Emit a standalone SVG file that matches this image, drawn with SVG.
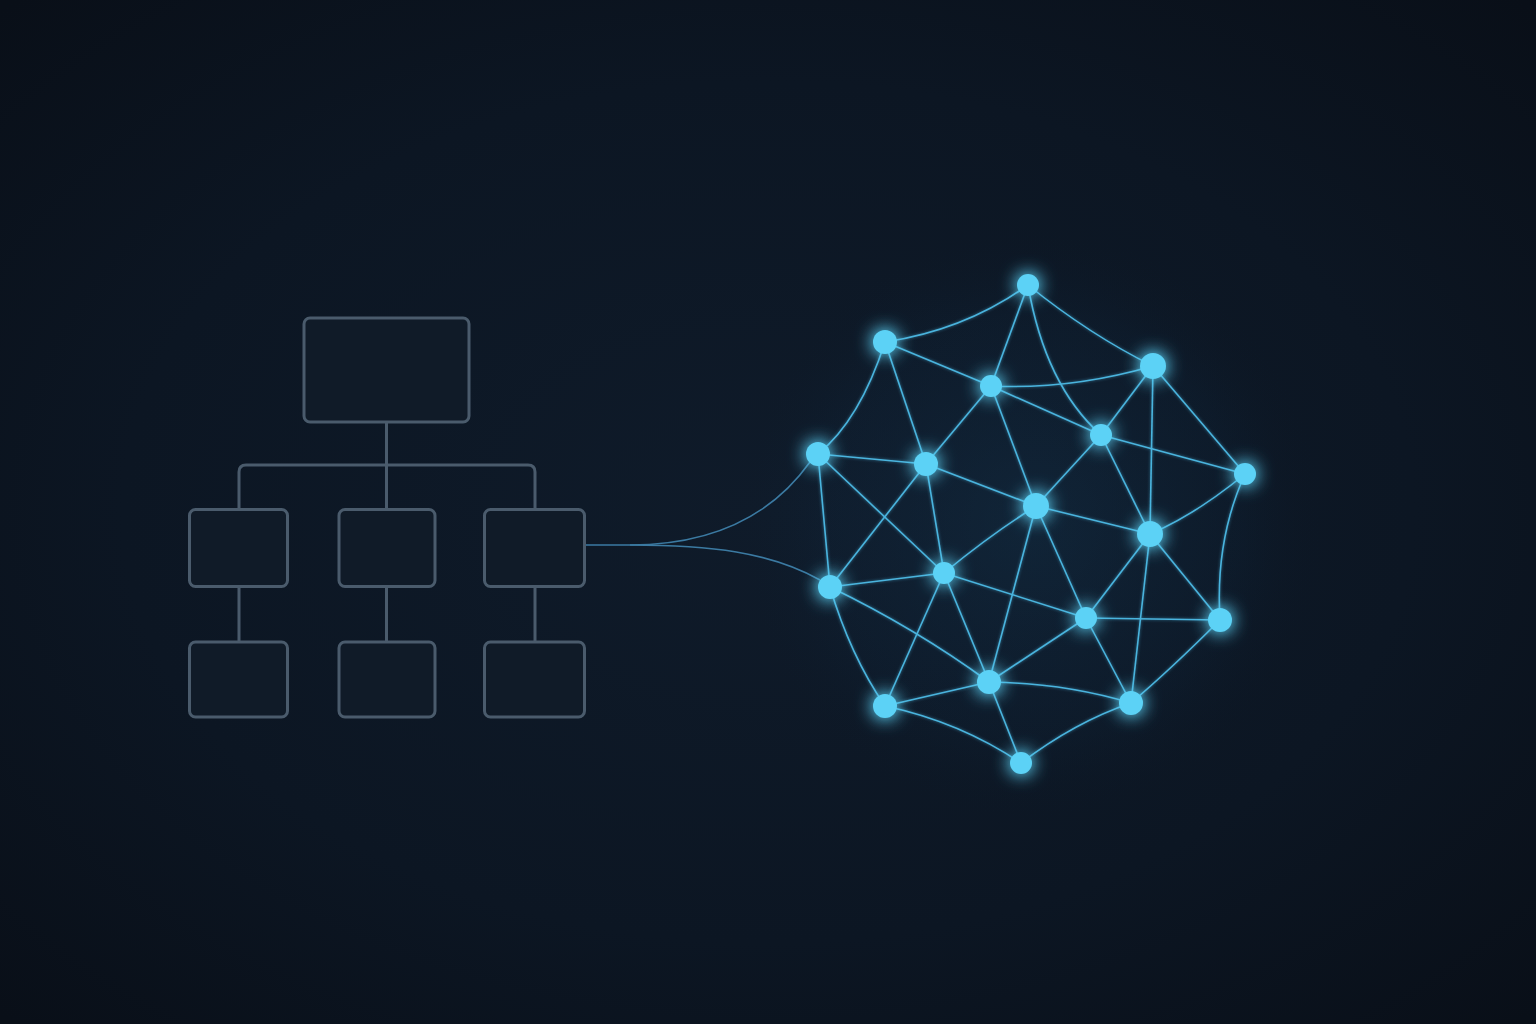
<svg xmlns="http://www.w3.org/2000/svg" width="1536" height="1024" viewBox="0 0 1536 1024">
<defs>
<radialGradient id="bg" cx="0.5" cy="0.5" r="0.7">
<stop offset="0" stop-color="#0f1b2a"/>
<stop offset="0.6" stop-color="#0c1623"/>
<stop offset="1" stop-color="#090f18"/>
</radialGradient>
<radialGradient id="halo" cx="0.5" cy="0.5" r="0.5">
<stop offset="0" stop-color="#17405f" stop-opacity="0.3"/>
<stop offset="0.7" stop-color="#123452" stop-opacity="0.12"/>
<stop offset="1" stop-color="#0c1623" stop-opacity="0"/>
</radialGradient>
<filter id="glow" x="-300%" y="-300%" width="700%" height="700%">
<feGaussianBlur in="SourceGraphic" stdDeviation="9" result="b"/>
<feComponentTransfer in="b" result="b2"><feFuncA type="linear" slope="1.4"/></feComponentTransfer>
<feMerge><feMergeNode in="b2"/><feMergeNode in="SourceGraphic"/></feMerge>
</filter>
<filter id="eglow" x="-20%" y="-20%" width="140%" height="140%">
<feGaussianBlur in="SourceGraphic" stdDeviation="1.5" result="b"/>
<feComponentTransfer in="b" result="b2"><feFuncA type="linear" slope="0.6"/></feComponentTransfer>
<feMerge><feMergeNode in="b2"/><feMergeNode in="SourceGraphic"/></feMerge>
</filter>
<style>
.box{fill:#101b28;stroke:#4a5b6c;stroke-width:3}
.tree{fill:none;stroke:#4a5b6c;stroke-width:3;stroke-linejoin:round}
.link{fill:none;stroke:#3b7aa2;stroke-width:1.6}
.e{fill:none;stroke:#4ab4de;stroke-width:1.6}
.n{fill:#5bd2f6}
</style>
</defs>
<rect width="1536" height="1024" fill="url(#bg)"/>
<ellipse cx="1030" cy="525" rx="300" ry="300" fill="url(#halo)"/>

<g id="hierarchy-connectors">
<path class="tree" d="M386.5 423 V465 M239 509 V472 Q239 465 246 465 H528 Q535 465 535 472 V509 M386.5 465 V509 M239 587 V642 M386.5 587 V642 M535 587 V642"/>
</g>
<g id="box-top"><rect class="box" x="304" y="318" width="165" height="104" rx="6"/></g>
<g id="box-mid-left"><rect class="box" x="189.5" y="509.5" width="98" height="77" rx="6"/></g>
<g id="box-mid-center"><rect class="box" x="339" y="509.5" width="96" height="77" rx="6"/></g>
<g id="box-mid-right"><rect class="box" x="484.5" y="509.5" width="100" height="77" rx="6"/></g>
<g id="box-bot-left"><rect class="box" x="189.5" y="642" width="98" height="75" rx="6"/></g>
<g id="box-bot-center"><rect class="box" x="339" y="642" width="96" height="75" rx="6"/></g>
<g id="box-bot-right"><rect class="box" x="484.5" y="642" width="100" height="75" rx="6"/></g>

<g id="bridge">
<path class="link" d="M586 545 H630 C700 545 765 525 810 462"/>
<path class="link" d="M630 545 C710 545 770 552 820 580"/>
</g>

<g id="connectors" filter="url(#eglow)">
<path class="e" d="M885 342 Q965 330 1028 285"/>
<path class="e" d="M1028 285 L991 386"/>
<path class="e" d="M1028 285 Q1045 385 1101 435"/>
<path class="e" d="M1028 285 Q1090 335 1153 366"/>
<path class="e" d="M885 342 L991 386"/>
<path class="e" d="M885 342 Q860 420 818 454"/>
<path class="e" d="M885 342 L926 464"/>
<path class="e" d="M991 386 Q1070 390 1153 366"/>
<path class="e" d="M991 386 L926 464"/>
<path class="e" d="M991 386 L1101 435"/>
<path class="e" d="M991 386 L1036 506"/>
<path class="e" d="M1153 366 L1101 435"/>
<path class="e" d="M1153 366 L1150 534"/>
<path class="e" d="M1153 366 L1245 474"/>
<path class="e" d="M1101 435 L1245 474"/>
<path class="e" d="M1101 435 L1036 506"/>
<path class="e" d="M1101 435 L1150 534"/>
<path class="e" d="M818 454 L926 464"/>
<path class="e" d="M818 454 L830 587"/>
<path class="e" d="M818 454 L944 573"/>
<path class="e" d="M926 464 L1036 506"/>
<path class="e" d="M926 464 L830 587"/>
<path class="e" d="M926 464 L944 573"/>
<path class="e" d="M1245 474 Q1195 515 1150 534"/>
<path class="e" d="M1245 474 Q1215 540 1220 620"/>
<path class="e" d="M1036 506 L1150 534"/>
<path class="e" d="M1036 506 Q990 535 944 573"/>
<path class="e" d="M1036 506 L989 682"/>
<path class="e" d="M1036 506 L1086 618"/>
<path class="e" d="M1150 534 L1086 618"/>
<path class="e" d="M1150 534 L1131 703"/>
<path class="e" d="M1150 534 L1220 620"/>
<path class="e" d="M830 587 L944 573"/>
<path class="e" d="M830 587 Q850 655 885 706"/>
<path class="e" d="M830 587 Q915 628 989 682"/>
<path class="e" d="M944 573 L885 706"/>
<path class="e" d="M944 573 L989 682"/>
<path class="e" d="M944 573 L1086 618"/>
<path class="e" d="M1086 618 L1220 620"/>
<path class="e" d="M1086 618 L989 682"/>
<path class="e" d="M1086 618 L1131 703"/>
<path class="e" d="M989 682 L885 706"/>
<path class="e" d="M989 682 L1021 763"/>
<path class="e" d="M989 682 Q1065 683 1131 703"/>
<path class="e" d="M885 706 Q960 722 1021 763"/>
<path class="e" d="M1131 703 Q1075 722 1021 763"/>
<path class="e" d="M1220 620 Q1170 670 1131 703"/>
</g>

<g filter="url(#glow)">
<g id="node-a"><circle class="n" cx="1028" cy="285" r="11"/></g>
<g id="node-b"><circle class="n" cx="885" cy="342" r="12"/></g>
<g id="node-c"><circle class="n" cx="991" cy="386" r="11"/></g>
<g id="node-d"><circle class="n" cx="1153" cy="366" r="13"/></g>
<g id="node-e"><circle class="n" cx="1101" cy="435" r="11"/></g>
<g id="node-f"><circle class="n" cx="818" cy="454" r="12"/></g>
<g id="node-g"><circle class="n" cx="926" cy="464" r="12"/></g>
<g id="node-h"><circle class="n" cx="1245" cy="474" r="11"/></g>
<g id="node-i"><circle class="n" cx="1036" cy="506" r="13"/></g>
<g id="node-j"><circle class="n" cx="1150" cy="534" r="13"/></g>
<g id="node-k"><circle class="n" cx="830" cy="587" r="12"/></g>
<g id="node-l"><circle class="n" cx="944" cy="573" r="11"/></g>
<g id="node-m"><circle class="n" cx="1086" cy="618" r="11"/></g>
<g id="node-n"><circle class="n" cx="1220" cy="620" r="12"/></g>
<g id="node-o"><circle class="n" cx="989" cy="682" r="12"/></g>
<g id="node-p"><circle class="n" cx="885" cy="706" r="12"/></g>
<g id="node-q"><circle class="n" cx="1131" cy="703" r="12"/></g>
<g id="node-r"><circle class="n" cx="1021" cy="763" r="11"/></g>
</g>
</svg>
